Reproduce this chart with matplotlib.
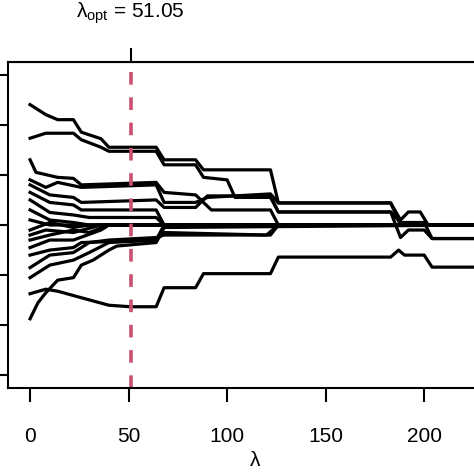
import matplotlib
matplotlib.use("Agg")
import matplotlib.pyplot as plt

plt.rcParams["font.family"] = ["Liberation Sans", "DejaVu Sans"]
plt.rcParams["mathtext.fontset"] = "custom"
plt.rcParams["mathtext.rm"] = "Liberation Sans"
plt.rcParams["mathtext.it"] = "Liberation Sans"

lambda_opt = 51.05
x_ticks = [0, 50, 100, 150, 200]
y_ticks = [-3, -2, -1, 0, 1, 2, 3]

# coefficient paths: (lambda, coefficient) breakpoints
paths = [
    [(0, 2.4), (8, 2.2), (14, 2.1), (22, 2.1), (26, 1.85), (36, 1.72), (40, 1.55), (64, 1.55), (68, 1.3), (84, 1.3), (88, 1.1), (122, 1.1), (126, 0.44), (183, 0.44), (188, 0.0), (230, 0.0)],
    [(0, 1.73), (8, 1.83), (22, 1.83), (26, 1.7), (36, 1.55), (40, 1.47), (64, 1.47), (68, 1.2), (84, 1.2), (88, 0.95), (100, 0.9), (104, 0.55), (122, 0.55), (126, 0.26), (183, 0.26), (188, 0.05), (200, 0.05), (204, -0.27), (230, -0.27)],
    [(0, 1.3), (3, 1.05), (14, 0.95), (22, 0.93), (26, 0.8), (64, 0.85), (68, 0.65), (84, 0.6), (92, 0.3), (122, 0.3), (126, 0.0), (230, 0.0)],
    [(0, 0.9), (8, 0.75), (14, 0.85), (26, 0.75), (64, 0.8), (68, 0.45), (84, 0.45), (90, 0.55), (122, 0.62), (126, 0.44), (183, 0.44), (188, 0.1), (192, 0.26), (198, 0.26), (202, 0.0), (230, 0.0)],
    [(0, 0.8), (10, 0.6), (22, 0.55), (26, 0.45), (64, 0.5), (68, 0.35), (84, 0.35), (90, 0.58), (122, 0.58), (126, 0.26), (183, 0.26), (188, -0.25), (192, -0.1), (200, -0.1), (204, -0.27), (230, -0.27)],
    [(0, 0.65), (10, 0.45), (22, 0.4), (26, 0.3), (64, 0.3), (68, 0.0), (230, 0.0)],
    [(0, 0.5), (10, 0.25), (22, 0.2), (30, 0.15), (64, 0.15), (68, 0.0), (230, 0.0)],
    [(0, 0.3), (10, 0.1), (22, 0.05), (30, 0.0), (230, 0.0)],
    [(0, 0.1), (10, 0.0), (230, 0.0)],
    [(0, -0.1), (10, 0.05), (22, -0.05), (30, 0.0), (230, 0.0)],
    [(0, -0.2), (8, -0.1), (22, -0.15), (36, 0.0), (230, 0.0)],
    [(0, -0.3), (10, -0.2), (22, -0.1), (30, -0.15), (40, 0.0), (230, 0.0)],
    [(0, -0.45), (10, -0.3), (22, -0.3), (36, -0.1), (40, 0.0), (230, 0.0)],
    [(0, -0.6), (10, -0.5), (22, -0.45), (26, -0.35), (64, -0.3), (68, 0.0), (230, 0.0)],
    [(0, -0.85), (10, -0.6), (22, -0.55), (30, -0.35), (40, -0.3), (64, -0.25), (68, -0.2), (84, -0.2), (122, -0.2), (126, 0.0), (230, 0.0)],
    [(0, -1.05), (10, -0.8), (22, -0.7), (30, -0.55), (40, -0.35), (64, -0.3), (68, -0.15), (120, -0.2), (126, 0.0), (230, 0.0)],
    [(0, -1.37), (8, -1.28), (14, -1.32), (26, -1.45), (40, -1.6), (51, -1.63), (64, -1.63), (68, -1.25), (84, -1.25), (88, -0.97), (122, -0.97), (126, -0.64), (183, -0.64), (187, -0.5), (190, -0.6), (200, -0.6), (204, -0.84), (230, -0.84)],
    [(0, -1.87), (4, -1.55), (8, -1.35), (14, -1.1), (22, -1.05), (26, -0.8), (32, -0.7), (40, -0.5), (44, -0.42), (64, -0.35), (68, -0.05), (230, 0.0)],
]


def plot_paths():
    fig = plt.figure(figsize=(4.74, 4.74), dpi=100)
    ax = fig.add_axes([8 / 474, 86 / 474, 495 / 474, 326 / 474])

    for path in paths:
        lam = [p[0] for p in path]
        coef = [p[1] for p in path]
        ax.plot(lam, coef, color="black", lw=2.3, solid_joinstyle="round")

    ax.axvline(lambda_opt, color="#c9506e", lw=2.6, ls=(0, (3.5, 3.5)))

    ax.set_xlim(-11.2, 240)
    ax.set_ylim(-3.25, 3.25)
    ax.set_xticks(x_ticks)
    ax.set_yticks(y_ticks)
    ax.tick_params(axis="x", length=10, width=1.5, pad=18, labelsize=15)
    # y tick labels fall outside the cropped picture
    ax.tick_params(axis="y", length=6, width=1.5, labelleft=False)
    for s in ax.spines.values():
        s.set_linewidth(1.5)
    ax.set_xlabel("λ", fontsize=15, labelpad=4)

    top = ax.secondary_xaxis("top")
    top.set_xticks([lambda_opt])
    top.set_xticklabels([r"$\lambda_{\mathrm{opt}}$ = 51.05"])
    top.tick_params(length=10, width=1.5, pad=16, labelsize=15)

    fig.savefig("out.png", dpi=100)


if __name__ == "__main__":
    plot_paths()
